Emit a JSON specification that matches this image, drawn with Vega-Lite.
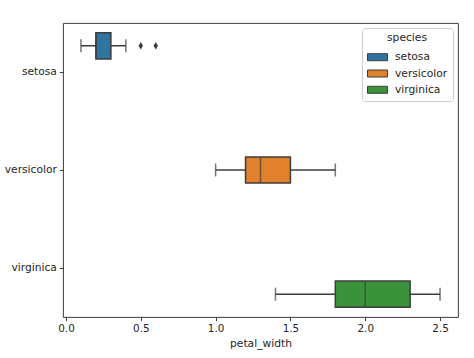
{
  "$schema": "https://vega.github.io/schema/vega-lite/v6.json",
  "width": 395,
  "height": 294,
  "autosize": {"type": "none"},
  "padding": {"left": 63, "top": 23, "right": 16, "bottom": 41},
  "background": "white",
  "config": {
    "font": "DejaVu Sans",
    "view": {"stroke": "#262626", "strokeWidth": 0.9},
    "axis": {
      "domain": false,
      "grid": false,
      "tickColor": "#262626",
      "tickSize": 3.6,
      "tickWidth": 0.9,
      "labelColor": "#262626",
      "labelFontSize": 10.4,
      "titleColor": "#262626",
      "titleFontSize": 10.7,
      "titleFontWeight": "normal"
    }
  },
  "datasets": {
    "boxes": [
      {"species": "setosa", "lo": 0.1, "q1": 0.2, "median": 0.2, "q3": 0.3, "hi": 0.4},
      {"species": "versicolor", "lo": 1.0, "q1": 1.2, "median": 1.3, "q3": 1.5, "hi": 1.8},
      {"species": "virginica", "lo": 1.4, "q1": 1.8, "median": 2.0, "q3": 2.3, "hi": 2.5}
    ],
    "outliers": [
      {"species": "setosa", "petal_width": 0.5},
      {"species": "setosa", "petal_width": 0.6}
    ]
  },
  "encoding": {
    "y": {
      "field": "species",
      "type": "nominal",
      "scale": {"domain": ["setosa", "versicolor", "virginica"], "paddingInner": 0, "paddingOuter": 0},
      "axis": {"title": null, "labelPadding": 3, "labelFontSize": 10.7, "ticks": true}
    },
    "yOffset": {
      "field": "species",
      "type": "nominal",
      "scale": {"domain": ["setosa", "versicolor", "virginica"], "paddingInner": 0, "paddingOuter": 0.375}
    }
  },
  "layer": [
    {
      "data": {"name": "boxes"},
      "mark": {"type": "rule", "color": "#3d3d3d", "strokeWidth": 1.5},
      "encoding": {
        "x": {
          "field": "lo",
          "type": "quantitative",
          "scale": {"domain": [-0.02, 2.62], "nice": false, "zero": false},
          "axis": {"values": [0, 0.5, 1, 1.5, 2, 2.5], "format": ".1f", "title": "petal_width", "labelPadding": 3, "titlePadding": 4}
        },
        "x2": {"field": "hi"}
      }
    },
    {
      "data": {"name": "boxes"},
      "mark": {"type": "tick", "orient": "vertical", "color": "#3d3d3d", "thickness": 1.5, "size": 13},
      "encoding": {"x": {"field": "lo", "type": "quantitative"}}
    },
    {
      "data": {"name": "boxes"},
      "mark": {"type": "tick", "orient": "vertical", "color": "#3d3d3d", "thickness": 1.5, "size": 13},
      "encoding": {"x": {"field": "hi", "type": "quantitative"}}
    },
    {
      "data": {"name": "boxes"},
      "mark": {"type": "bar", "stroke": "#3d3d3d", "strokeWidth": 1.5, "opacity": 1},
      "encoding": {
        "x": {"field": "q1", "type": "quantitative"},
        "x2": {"field": "q3"},
        "color": {
          "field": "species",
          "type": "nominal",
          "scale": {"domain": ["setosa", "versicolor", "virginica"], "range": ["#3274a1", "#e1812c", "#3a923a"]},
          "legend": {
            "title": "species",
            "orient": "top-right",
            "offset": 5,
            "fillColor": "white",
            "strokeColor": "#cccccc",
            "cornerRadius": 3,
            "padding": 5,
            "titleAnchor": "middle",
            "titleFontWeight": "normal",
            "titleFontSize": 10.7,
            "titleColor": "#262626",
            "titlePadding": 3,
            "labelFontSize": 10.7,
            "labelColor": "#262626",
            "labelOffset": 7,
            "rowPadding": 0.3,
            "symbolType": "M-1,-0.35H1V0.35H-1Z",
            "symbolSize": 400,
            "symbolStrokeColor": "#3d3d3d",
            "symbolStrokeWidth": 1,
            "symbolOpacity": 1
          }
        }
      }
    },
    {
      "data": {"name": "boxes"},
      "mark": {"type": "tick", "orient": "vertical", "color": "#3d3d3d", "thickness": 1.5, "size": 26},
      "encoding": {"x": {"field": "median", "type": "quantitative"}}
    },
    {
      "data": {"name": "outliers"},
      "mark": {"type": "point", "shape": "M0,-1L0.6,0L0,1L-0.6,0Z", "filled": true, "color": "#3d3d3d", "opacity": 1, "size": 56},
      "encoding": {"x": {"field": "petal_width", "type": "quantitative"}}
    }
  ]
}
